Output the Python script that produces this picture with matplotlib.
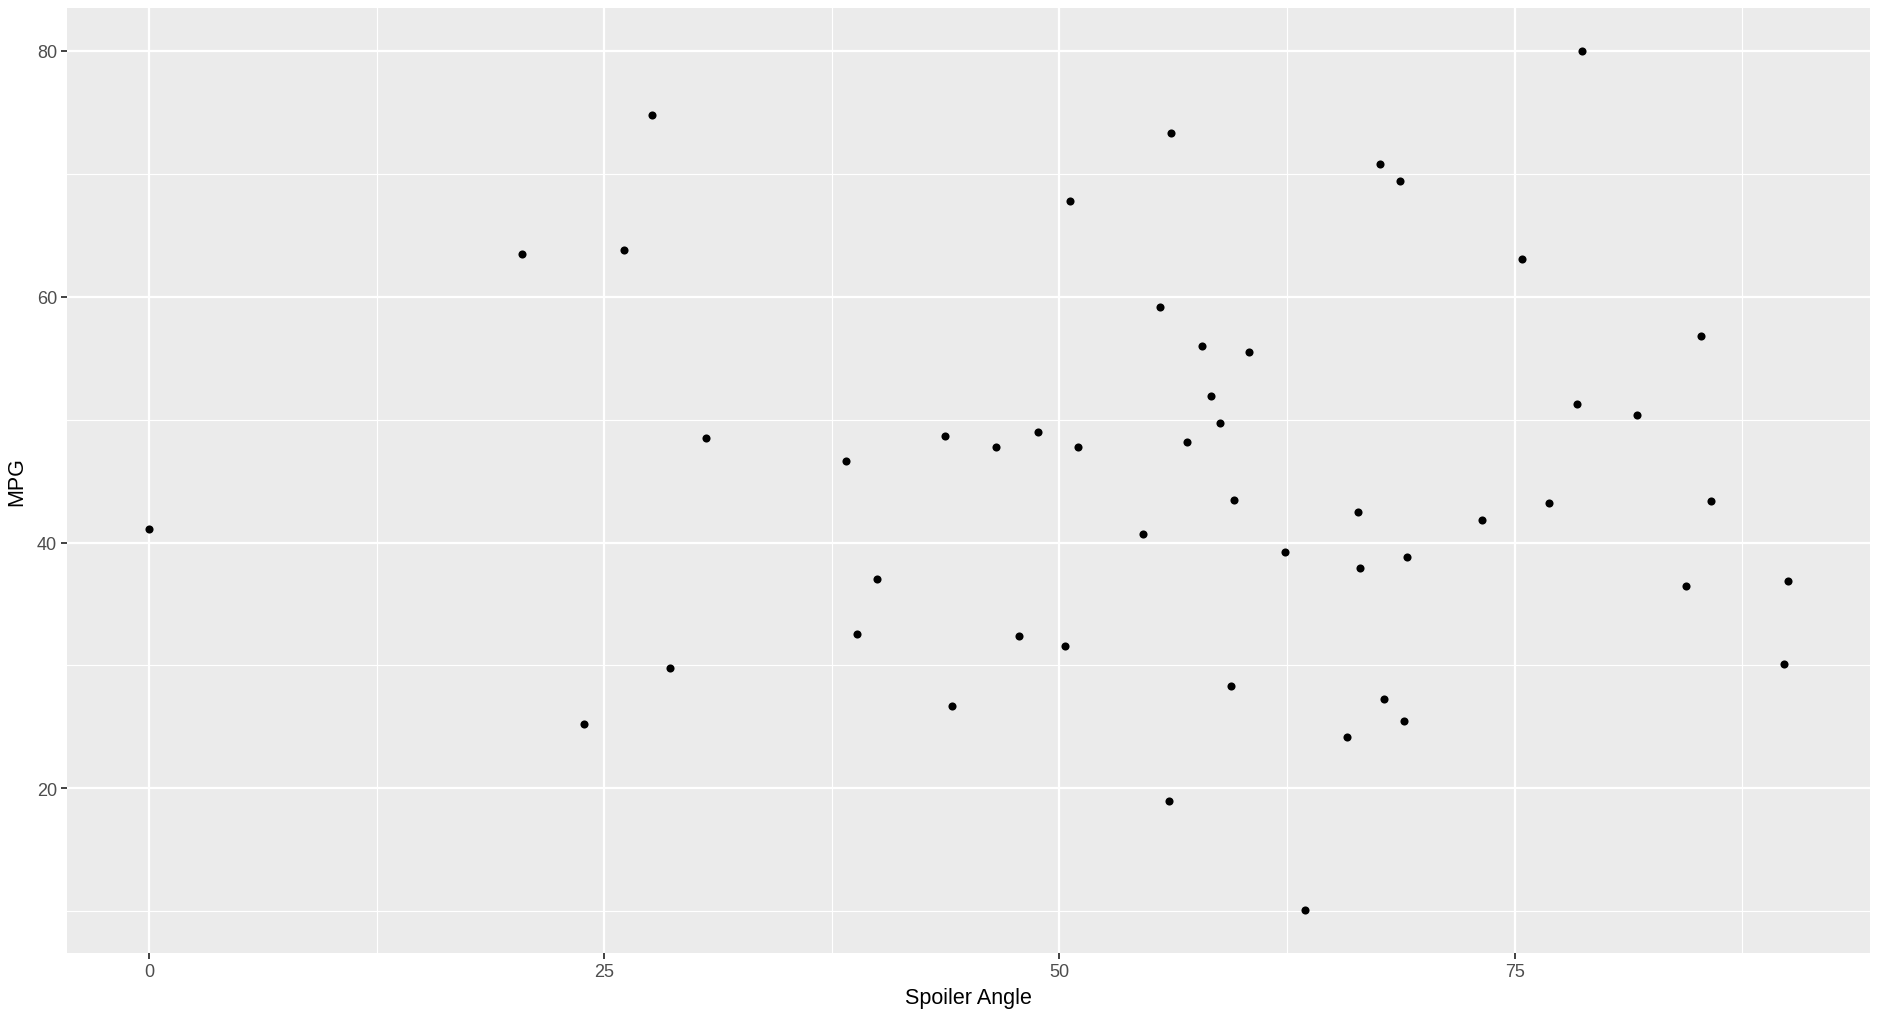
import numpy as np
import matplotlib.pyplot as plt
from matplotlib.ticker import MultipleLocator

# Spoiler angle vs MPG
spoiler_angle = [0.0, 20.5, 23.9, 26.1, 27.6, 28.6, 30.6, 38.3, 38.9, 40.0,
                 43.7, 44.1, 46.5, 47.8, 48.8, 50.3, 50.6, 51.0, 54.6, 55.5,
                 56.0, 56.1, 57.0, 57.8, 58.3, 58.8, 59.4, 59.6, 60.4, 62.4,
                 63.5, 65.8, 66.4, 66.5, 67.6, 67.8, 68.7, 68.9, 69.1, 73.2,
                 75.4, 76.9, 78.4, 78.7, 81.7, 84.4, 85.2, 85.8, 89.8, 90.0]
mpg = [41.1, 63.5, 25.2, 63.8, 74.8, 29.8, 48.5, 46.6, 32.6, 37.0,
       48.7, 26.7, 47.8, 32.4, 49.0, 31.6, 67.8, 47.8, 40.7, 59.2,
       19.0, 73.3, 48.2, 56.0, 51.9, 49.7, 28.3, 43.5, 55.5, 39.2,
       10.1, 24.2, 42.5, 37.9, 70.8, 27.3, 69.4, 25.5, 38.8, 41.8,
       63.1, 43.2, 51.3, 80.0, 50.4, 36.5, 56.8, 43.4, 30.1, 36.9]

x_ticks = [0, 25, 50, 75]
y_ticks = [20, 40, 60, 80]

plt.rcParams['font.family'] = ['Liberation Sans', 'DejaVu Sans']

fig = plt.figure(figsize=(18.85, 10.2), dpi=100)
ax = fig.add_axes([0.0355, 0.0647, 0.9565, 0.9265])

ax.set_facecolor('#EBEBEB')
for s in ax.spines.values():
    s.set_visible(False)

ax.scatter(spoiler_angle, mpg, s=34, color='black', zorder=3, linewidths=0)

# ggplot-like expansion of 5%
xr = max(spoiler_angle) - min(spoiler_angle)
yr = max(mpg) - min(mpg)
ax.set_xlim(min(spoiler_angle) - 0.05 * xr, max(spoiler_angle) + 0.05 * xr)
ax.set_ylim(min(mpg) - 0.05 * yr, max(mpg) + 0.05 * yr)

ax.set_xticks(x_ticks)
ax.set_yticks(y_ticks)
ax.xaxis.set_minor_locator(MultipleLocator(12.5))
ax.yaxis.set_minor_locator(MultipleLocator(10))
ax.grid(which='major', color='white', linewidth=1.6)
ax.grid(which='minor', color='white', linewidth=0.8)
ax.set_axisbelow(True)

ax.tick_params(which='major', length=4, width=1.3, color='#333333',
               labelcolor='#4D4D4D', labelsize=13, pad=3)
ax.tick_params(which='minor', length=0)

ax.set_xlabel('Spoiler Angle', fontsize=15.5, color='black', labelpad=5)
ax.set_ylabel('MPG', fontsize=15.5, color='black', labelpad=7)

fig.savefig('out.png', dpi=100)
